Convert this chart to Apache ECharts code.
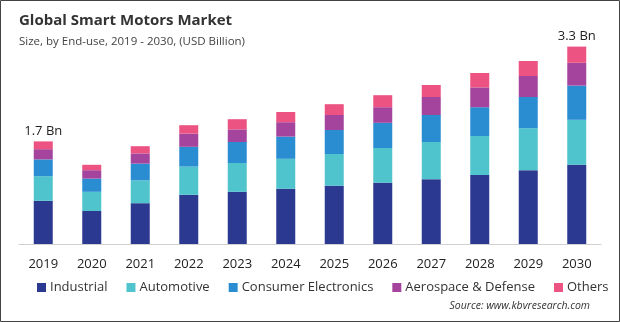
<!DOCTYPE html>
<html><head><meta charset="utf-8">
<script src="https://cdn.jsdelivr.net/npm/echarts@6/dist/echarts.min.js"></script>
<style>html,body{margin:0;padding:0;background:#fff}#c{width:620px;height:322px}</style>
</head><body><div id="c"></div>
<script>
const years = ['2019','2020','2021','2022','2023','2024','2025','2026','2027','2028','2029','2030'];
const industrial = [0.72,0.55,0.68,0.82,0.87,0.92,0.97,1.02,1.08,1.15,1.23,1.32];
const automotive = [0.41,0.32,0.38,0.47,0.48,0.50,0.53,0.58,0.62,0.65,0.70,0.75];
const consumerElectronics = [0.28,0.22,0.28,0.33,0.35,0.37,0.40,0.42,0.45,0.48,0.52,0.57];
const aerospaceDefense = [0.17,0.14,0.17,0.22,0.21,0.24,0.25,0.26,0.30,0.33,0.35,0.38];
const others = [0.13,0.09,0.12,0.14,0.17,0.17,0.18,0.20,0.20,0.24,0.25,0.27];
const totalLabels = ['1.7 Bn','','','','','','','','','','','3.3 Bn'];
const seriesNames = ['Industrial','Automotive','Consumer Electronics','Aerospace & Defense','Others'];
const colors = ['#2b3990','#4fc4cc','#2a8dd2','#a4449c','#ec5282'];
const allData = [industrial, automotive, consumerElectronics, aerospaceDefense, others];
const FONT = 'Open Sans';

const chart = echarts.init(document.getElementById('c'), null, {renderer:'canvas'});
const series = allData.map((d, i) => ({
  name: seriesNames[i], type: 'bar', stack: 'total', barWidth: 19,
  itemStyle: {color: colors[i]},
  data: d,
  label: i === 4 ? {
    show: true, position: 'top', distance: 4,
    color: '#222', fontFamily: FONT, fontSize: 13,
    formatter: p => totalLabels[p.dataIndex]
  } : {show: false},
  emphasis: {disabled: true}
}));
chart.setOption({
  animation: false,
  textStyle: {fontFamily: FONT},
  title: [
    {text: 'Global Smart Motors Market', left: 14, top: 8,
     textStyle: {fontFamily: FONT, fontSize: 15, fontWeight: 'bold', color: '#333'}},
    {text: 'Size, by End-use, 2019 - 2030, (USD Billion)', left: 14, top: 31,
     textStyle: {fontFamily: FONT, fontSize: 11.5, fontWeight: 'normal', color: '#444'}},
    {text: 'Source: www.kbvresearch.com', right: 25, top: 296,
     textStyle: {fontFamily: FONT, fontSize: 10.5, fontStyle: 'italic', fontWeight: 'normal', color: '#333'}}
  ],
  legend: {
    data: seriesNames, top: 276, left: 32,
    itemWidth: 9, itemHeight: 9, itemGap: 19,
    icon: 'rect',
    textStyle: {fontFamily: FONT, fontSize: 13, color: '#333', padding: [0,0,0,-1]}
  },
  grid: {left: 19, right: 19, top: 34, bottom: 78},
  xAxis: {
    type: 'category', data: years,
    axisLine: {lineStyle: {color: '#d0d0d0'}},
    axisTick: {show: false},
    axisLabel: {color: '#222', fontFamily: FONT, fontSize: 13, margin: 14}
  },
  yAxis: {type: 'value', min: 0, max: 3.5, show: false, splitLine: {show: false}},
  graphic: [{type: 'rect', shape: {x: 0.5, y: 0.5, width: 619, height: 321},
    style: {fill: 'none', stroke: '#444', lineWidth: 1}, silent: true}],
  series: series
});
</script></body></html>
